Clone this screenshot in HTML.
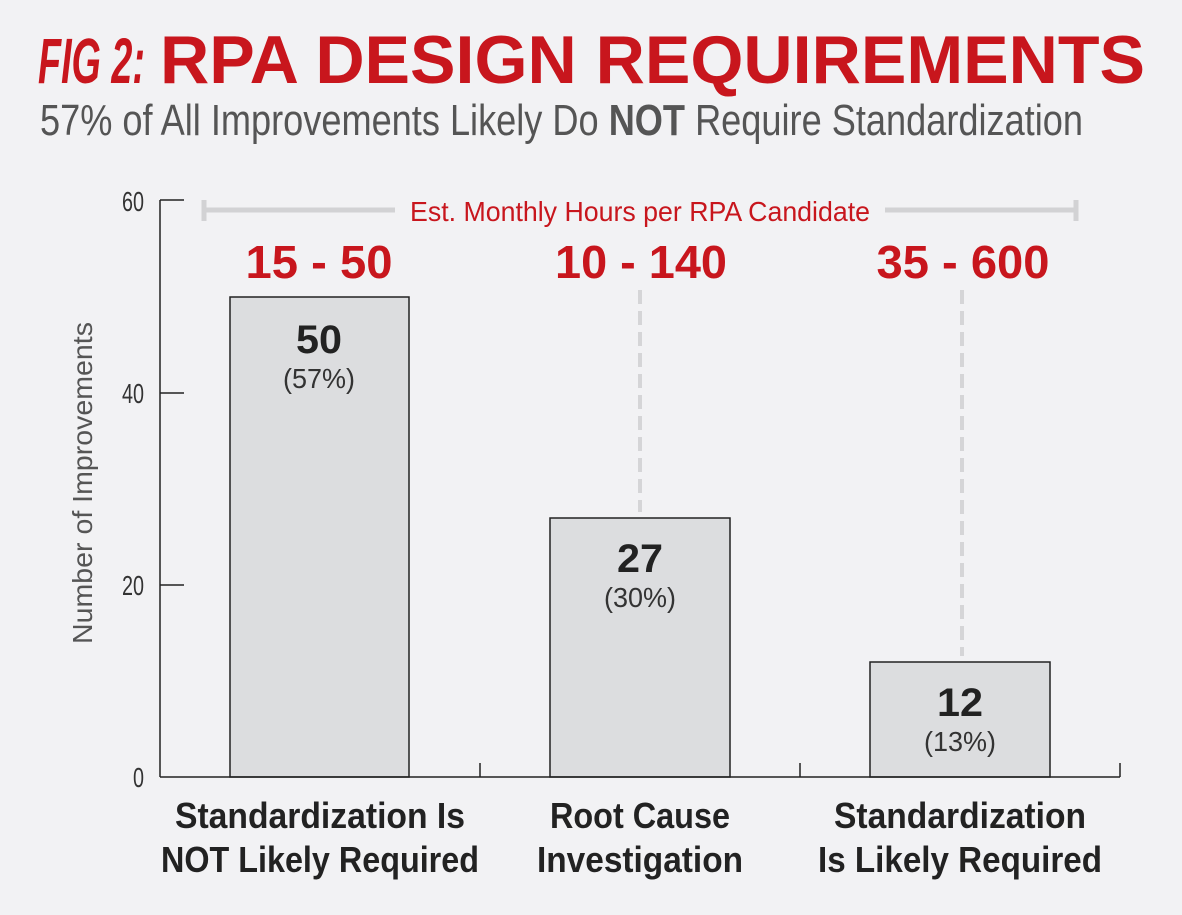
<!DOCTYPE html>
<html><head><meta charset="utf-8"><style>
html,body{margin:0;padding:0;background:#f2f2f4;}
svg{display:block;}
text{font-family:"Liberation Sans Narrow","Liberation Sans",sans-serif;}
</style></head><body>
<svg width="1182" height="915" viewBox="0 0 1182 915" xmlns="http://www.w3.org/2000/svg">
<rect width="1182" height="915" fill="#f2f2f4"/>
<text x="38" y="83" font-size="64" font-style="italic" font-weight="bold" fill="#c8161d" textLength="107" lengthAdjust="spacingAndGlyphs">FIG 2:</text>
<text x="160" y="83" font-size="68" font-weight="bold" fill="#c8161d" textLength="985" lengthAdjust="spacingAndGlyphs" style="font-family:'Liberation Sans',sans-serif">RPA DESIGN REQUIREMENTS</text>
<text x="40" y="135" font-size="44" fill="#555" textLength="1043" lengthAdjust="spacingAndGlyphs">57% of All Improvements Likely Do <tspan font-weight="bold">NOT</tspan> Require Standardization</text>

<g stroke="#d2d2d4" stroke-width="5">
<line x1="203" y1="210" x2="395" y2="210"/><line x1="885" y1="210" x2="1077" y2="210"/>
<line x1="204" y1="200" x2="204" y2="221"/><line x1="1076" y1="200" x2="1076" y2="221"/>
</g>
<text x="640" y="221" font-size="28" fill="#c8161d" text-anchor="middle" textLength="460" lengthAdjust="spacingAndGlyphs">Est. Monthly Hours per RPA Candidate</text>

<g font-size="46" font-weight="bold" fill="#c8161d" text-anchor="middle">
<text x="319" y="278" textLength="147" lengthAdjust="spacingAndGlyphs">15 - 50</text>
<text x="641" y="278" textLength="172" lengthAdjust="spacingAndGlyphs">10 - 140</text>
<text x="963" y="278" textLength="173" lengthAdjust="spacingAndGlyphs">35 - 600</text>
</g>
<g stroke="#d5d5d7" stroke-width="4" stroke-dasharray="14 7">
<line x1="640" y1="290" x2="640" y2="512"/>
<line x1="962" y1="290" x2="962" y2="656"/>
</g>

<g fill="#dcdddf" stroke="#222" stroke-width="1.5">
<rect x="230" y="297" width="179" height="480"/>
<rect x="550" y="518" width="180" height="259"/>
<rect x="870" y="662" width="180" height="115"/>
</g>

<g stroke="#222" stroke-width="1.5">
<line x1="160" y1="200" x2="160" y2="777"/>
<line x1="160" y1="200" x2="184" y2="200"/>
<line x1="160" y1="393" x2="184" y2="393"/>
<line x1="160" y1="585" x2="184" y2="585"/>
<line x1="160" y1="777" x2="1120" y2="777"/>
<line x1="480" y1="777" x2="480" y2="763"/>
<line x1="800" y1="777" x2="800" y2="763"/>
<line x1="1120" y1="777" x2="1120" y2="763"/>
</g>
<g font-size="28" fill="#333" text-anchor="end">
<text x="144" y="211" textLength="22" lengthAdjust="spacingAndGlyphs">60</text>
<text x="144" y="403" textLength="22" lengthAdjust="spacingAndGlyphs">40</text>
<text x="144" y="595" textLength="22" lengthAdjust="spacingAndGlyphs">20</text>
<text x="144" y="787" textLength="11" lengthAdjust="spacingAndGlyphs">0</text>
</g>
<text transform="translate(92,483) rotate(-90)" font-size="28" fill="#555" text-anchor="middle" textLength="322" lengthAdjust="spacingAndGlyphs">Number of Improvements</text>

<g text-anchor="middle" fill="#222">
<text x="319" y="353" font-size="40" font-weight="bold" textLength="46" lengthAdjust="spacingAndGlyphs">50</text>
<text x="319" y="388" font-size="28" fill="#333" textLength="72" lengthAdjust="spacingAndGlyphs">(57%)</text>
<text x="640" y="572" font-size="40" font-weight="bold" textLength="46" lengthAdjust="spacingAndGlyphs">27</text>
<text x="640" y="607" font-size="28" fill="#333" textLength="72" lengthAdjust="spacingAndGlyphs">(30%)</text>
<text x="960" y="716" font-size="40" font-weight="bold" textLength="46" lengthAdjust="spacingAndGlyphs">12</text>
<text x="960" y="751" font-size="28" fill="#333" textLength="72" lengthAdjust="spacingAndGlyphs">(13%)</text>
</g>

<g text-anchor="middle" fill="#222" font-size="36" font-weight="bold">
<text x="320" y="828" textLength="290" lengthAdjust="spacingAndGlyphs">Standardization Is</text>
<text x="320" y="872" textLength="318" lengthAdjust="spacingAndGlyphs">NOT Likely Required</text>
<text x="640" y="828" textLength="180" lengthAdjust="spacingAndGlyphs">Root Cause</text>
<text x="640" y="872" textLength="206" lengthAdjust="spacingAndGlyphs">Investigation</text>
<text x="960" y="828" textLength="252" lengthAdjust="spacingAndGlyphs">Standardization</text>
<text x="960" y="872" textLength="284" lengthAdjust="spacingAndGlyphs">Is Likely Required</text>
</g>
</svg>
</body></html>
